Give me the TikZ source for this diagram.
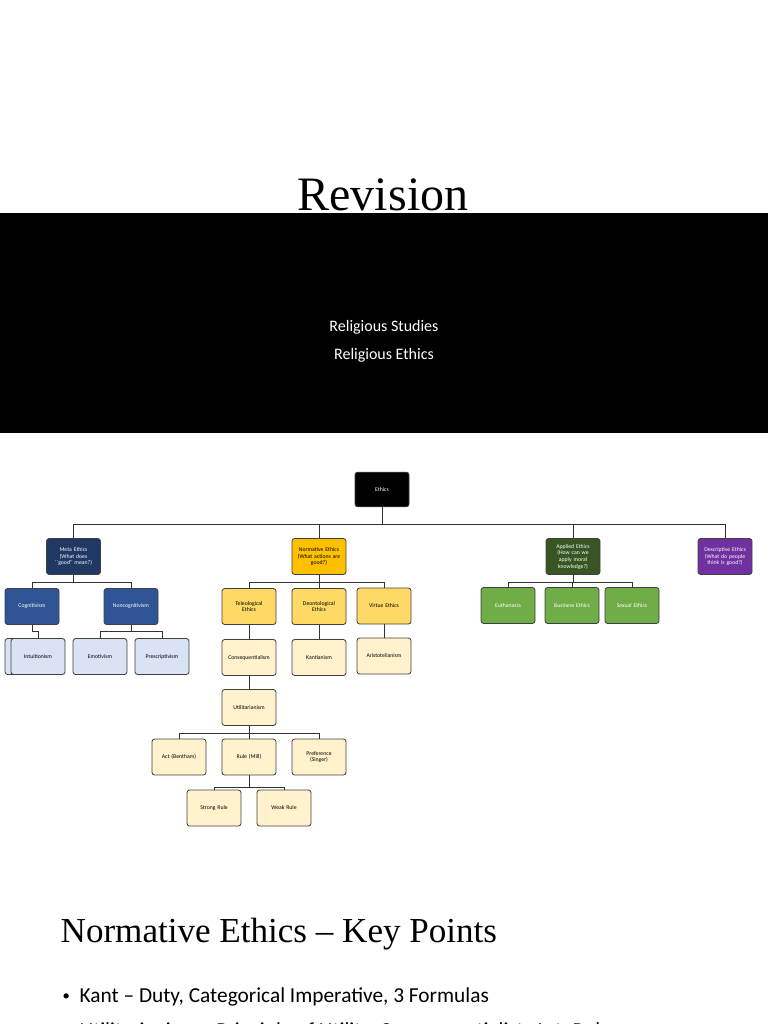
\documentclass[tikz,border=0pt]{standalone}
\usepackage{fontspec}
\setmainfont{Liberation Serif}
\newfontfamily\calfnt{Carlito}
\begin{document}
\begin{tikzpicture}[x=0.75pt,y=-0.75pt,
  bx/.style={draw=black!75,line width=0.6pt,rounded corners=2pt,minimum width=40.5pt,minimum height=27pt,inner sep=1pt,font=\calfnt\fontsize{4.3}{5}\selectfont,align=center,text width=38pt},
  ln/.style={draw=black!80,line width=0.7pt},
  navy/.style={bx,fill=c1,text=white}, blu/.style={bx,fill=c2,text=white}, lblu/.style={bx,fill=c3},
  gold/.style={bx,fill=c4}, yel/.style={bx,fill=c5}, lyel/.style={bx,fill=c6},
  dgr/.style={bx,fill=c7,text=white}, gr/.style={bx,fill=c8,text=white}, pur/.style={bx,fill=c9,text=white}]
\definecolor{c1}{HTML}{1F3864}\definecolor{c2}{HTML}{2F5597}\definecolor{c3}{HTML}{DAE3F3}
\definecolor{c4}{HTML}{FFC000}\definecolor{c5}{HTML}{FFD966}\definecolor{c6}{HTML}{FFF2CC}
\definecolor{c7}{HTML}{375623}\definecolor{c8}{HTML}{70AD47}\definecolor{c9}{HTML}{7030A0}
\useasboundingbox (0,0) rectangle (768,1024);
\clip (0,0) rectangle (768,1024);
\fill[black] (0,213) rectangle (768,433);
\node[font=\fontsize{36}{40}\selectfont,anchor=base] (title) at (383,210) {Revision};
\node[font=\calfnt\fontsize{12}{14}\selectfont,text=white] (s1) at (384,327) {Religious Studies};
\node[font=\calfnt\fontsize{12}{14}\selectfont,text=white] (s2) at (384,355) {Religious Ethics};
% connectors
\draw[ln] (382,500) |- (73.5,524) -- (73.5,540);
\draw[ln] (382,524) -| (725,540);
\draw[ln] (319,540) -- (319,524);
\draw[ln] (573,540) -- (573,524);
% nodes
\node[bx,fill=black,text=white,minimum height=26pt] (eth) at (382,489.5) {Ethics};
\node[navy] (meta) at (73.5,556.5) {Meta Ethics\\(What does\\``good'' mean?)};
\node[gold] (norm) at (319,556.5) {Normative Ethics\\(What actions are\\good?)};
\node[dgr] (app) at (573,556.5) {Applied Ethics\\(How can we\\apply moral\\knowledge?)};
\node[pur] (desc) at (725,556.5) {Descriptive Ethics\\(What do people\\think is good?)};
\node[blu] (cog) at (32,606.5) {Cognitivism};
\node[blu] (ncog) at (131,606.5) {Noncognitivism};
\node[lblu] (int0) at (32,656.5) {};
\node[lblu] (int) at (38,656.5) {Intuitionism};
\node[lblu] (emo) at (100,656.5) {Emotivism};
\node[lblu] (pre) at (162,656.5) {Prescriptivism};
\node[yel] (tel) at (249,606.5) {Teleological\\Ethics};
\node[yel] (deo) at (319,606.5) {Deontological\\Ethics};
\node[yel] (vir) at (384,606) {Virtue Ethics};
\node[lyel] (con) at (249,657.5) {Consequentialism};
\node[lyel] (kan) at (319,657.5) {Kantianism};
\node[lyel] (ari) at (384,656) {Aristotelianism};
\node[lyel] (uti) at (249,707.5) {Utilitarianism};
\node[lyel] (act) at (179,757) {Act (Bentham)};
\node[lyel] (rule) at (249,757) {Rule (Mill)};
\node[lyel] (pref) at (319,757) {Preference\\(Singer)};
\node[lyel] (str) at (214,808) {Strong Rule};
\node[lyel] (weak) at (284,808) {Weak Rule};
\node[gr] (eut) at (508,605.5) {Euthanasia};
\node[gr] (bus) at (572,605.5) {Business Ethics};
\node[gr] (sex) at (632,605.5) {Sexual Ethics};
\draw[ln] (meta.south) -- (73.5,582) -| (cog.north); \draw[ln] (73.5,582) -| (ncog.north);
\draw[ln] (cog.south) -- (32,631) -| (int.north);
\draw[ln] (ncog.south) -- (131,631) -| (emo.north); \draw[ln] (131,631) -| (pre.north);
\draw[ln] (norm.south) -- (319,582) -| (tel.north); \draw[ln] (319,582) -| (vir.north); \draw[ln] (319,582) -- (deo.north);
\draw[ln] (tel.south) -- (con.north); \draw[ln] (deo.south) -- (kan.north); \draw[ln] (vir.south) -- (ari.north);
\draw[ln] (con.south) -- (uti.north);
\draw[ln] (uti.south) -- (249,733) -| (act.north); \draw[ln] (249,733) -| (pref.north); \draw[ln] (249,733) -- (rule.north);
\draw[ln] (rule.south) -- (249,787) -| (str.north); \draw[ln] (249,787) -| (weak.north);
\draw[ln] (app.south) -- (573,582) -| (eut.north); \draw[ln] (573,582) -| (sex.north); \draw[ln] (572,582) -- (bus.north);
% lower text
\node[anchor=base west,font=\fontsize{26.3}{30}\selectfont] (h2) at (56,942) {Normative Ethics \textendash\ Key Points};
\node[anchor=base west,font=\calfnt\fontsize{16}{18}\selectfont] (b1) at (58,1002) {{\fontsize{11}{12}\selectfont\raisebox{1pt}{\textbullet}}\ \ Kant \textendash\ Duty, Categorical Imperative, 3 Formulas};
\node[anchor=base west,font=\calfnt\fontsize{16}{18}\selectfont] (b2) at (58,1037) {{\fontsize{11}{12}\selectfont\raisebox{1pt}{\textbullet}}\ \ Utilitarianism \textendash\ Principle of Utility, Consequentialist, Act, Rule};
\end{tikzpicture}
\end{document}
